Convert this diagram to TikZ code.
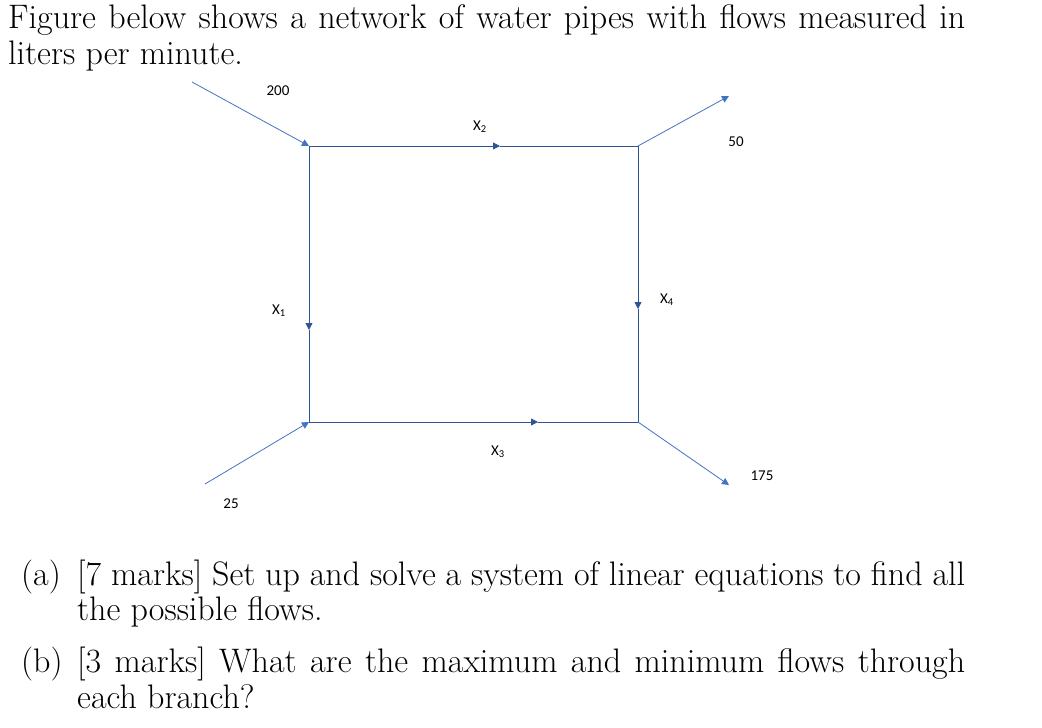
\documentclass[tikz,border=0pt]{standalone}
\usepackage{fontspec}
\setmainfont{Latin Modern Roman}
\newfontfamily\lblfont{Carlito}
\usetikzlibrary{arrows.meta}
\definecolor{pipe}{RGB}{68,114,196}
\definecolor{pipedark}{RGB}{47,84,150}
\tikzset{
  pipeline/.style={draw=pipe, line width=0.8pt},
  tip/.style={-{Triangle[width=7pt,length=7pt]}},
  lbl/.style={font=\lblfont\fontsize{15}{17}\selectfont, inner sep=0pt},
  txt/.style={font=\fontsize{34}{38}\selectfont, inner sep=0pt, anchor=base west}
}
\begin{document}
\begin{tikzpicture}[x=1pt,y=-1pt]
\useasboundingbox (0,0) rectangle (1042,728);
% text
\node[txt] (t1) at (8,28) {\makebox[957pt][s]{Figure below shows a network of water pipes with flows measured in}};
\node[txt] (t2) at (8,64) {liters per minute.};
\node[txt] (a1) at (21,585) {(a)};
\node[txt] (a2) at (77,585) {\makebox[888pt][s]{[7 marks] Set up and solve a system of linear equations to find all}};
\node[txt] (a3) at (77,620) {the possible flows.};
\node[txt] (b1) at (21,672) {(b)};
\node[txt] (b2) at (77,672) {\makebox[888pt][s]{[3 marks] What are the maximum and minimum flows through}};
\node[txt] (b3) at (77,708) {each branch?};
% geometry
\coordinate (TL) at (309,146);
\coordinate (TR) at (638,146);
\coordinate (BL) at (309,422);
\coordinate (BR) at (638,422);
\coordinate (mT) at (500,146);
\coordinate (mL) at (309,330);
\coordinate (mR) at (638,309);
\coordinate (mB) at (538,422);
\coordinate (in200) at (192,82);
\coordinate (out50) at (729,96);
\coordinate (in25) at (205,484);
\coordinate (out175) at (729,485);
% pipes
\draw[pipeline,tip] (in200) -- (TL);
\draw[pipeline,tip] (TR) -- (out50);
\draw[pipeline,tip] (in25) -- (BL);
\draw[pipeline,tip] (BR) -- (out175);
\draw[pipeline,draw=pipedark,tip] (TL) -- (mT);
\draw[pipeline,draw=pipedark] (mT) -- (TR);
\draw[pipeline,draw=pipedark,tip] (TL) -- (mL);
\draw[pipeline,draw=pipedark] (mL) -- (BL);
\draw[pipeline,draw=pipedark,tip] (TR) -- (mR);
\draw[pipeline,draw=pipedark] (mR) -- (BR);
\draw[pipeline,draw=pipedark,tip] (BL) -- (mB);
\draw[pipeline,draw=pipedark] (mB) -- (BR);
% labels
\node[lbl] (l200) at (278,91) {200};
\node[lbl] (l50) at (736,142) {50};
\node[lbl] (l25) at (231,504) {25};
\node[lbl] (l175) at (762,476) {175};
\node[lbl] (lx2) at (480,127) {X\textsubscript{2}};
\node[lbl] (lx1) at (279,311) {X\textsubscript{1}};
\node[lbl] (lx4) at (667,300) {X\textsubscript{4}};
\node[lbl] (lx3) at (498,452) {X\textsubscript{3}};
\end{tikzpicture}
\end{document}
